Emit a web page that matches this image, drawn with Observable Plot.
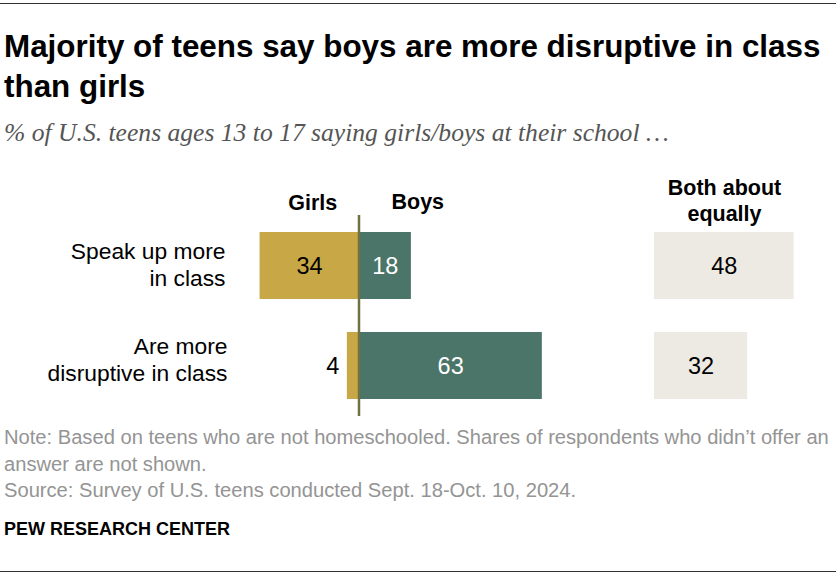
<!DOCTYPE html>
<html><head><meta charset="utf-8">
<script src="https://cdn.jsdelivr.net/npm/d3@7"></script>
<script src="https://cdn.jsdelivr.net/npm/@observablehq/plot@0.6"></script>
<style>
html,body{margin:0;padding:0;background:#fff;}
#page{position:relative;width:840px;height:576px;overflow:hidden;font-family:"Liberation Sans",Arial,sans-serif;}
.rule{position:absolute;left:0;width:836px;height:1px;background:#333;}
#title{position:absolute;left:4px;top:27px;width:832px;font-weight:700;font-size:31.4px;line-height:39.5px;color:#000;}
#subtitle{position:absolute;left:4px;top:118px;font-family:"Liberation Serif",serif;font-style:italic;font-size:25.6px;line-height:30px;color:#555;}
#chart{position:absolute;left:0;top:170px;}
#note{position:absolute;left:4px;top:424px;width:832px;font-size:20.15px;line-height:26.5px;color:#949494;}
#credit{position:absolute;left:4px;top:517px;font-size:18px;line-height:24px;font-weight:700;color:#000;}
</style></head>
<body>
<div id="page">
<div class="rule" style="top:3px"></div>
<div id="title">Majority of teens say boys are more disruptive in class than girls</div>
<div id="subtitle">% of U.S. teens ages 13 to 17 saying girls/boys at their school …</div>
<div id="chart"></div>
<div id="note">Note: Based on teens who are not homeschooled. Shares of respondents who didn’t offer an answer are not shown.<br>Source: Survey of U.S. teens conducted Sept. 18-Oct. 10, 2024.</div>
<div id="credit">PEW RESEARCH CENTER</div>
<div class="rule" style="top:571px"></div>
</div>
<script>
const categories = ["Speak up more\nin class", "Are more\ndisruptive in class"];
const girls = [34, 4];
const boys = [18, 63];
const both = [48, 32];
const headers = ["Girls", "Boys", "Both about\nequally"];

const bothStart = 101.55;          // where the "both" column begins, in percentage units
const rows = categories.map((c, i) => ({c, girls: girls[i], boys: boys[i], both: both[i]}));
const fs = 23.5, ls = 22.8, hs = 21.5;

const plot = Plot.plot({
  width: 840, height: 250,
  marginLeft: 0, marginRight: 0, marginTop: 45, marginBottom: 4,
  x: {domain: [-123.2, 165.47], axis: null},
  y: {domain: categories, paddingInner: 0.33, paddingOuter: 0.17, axis: null},
  style: {fontFamily: '"Liberation Sans",Arial,sans-serif', background: "transparent"},
  marks: [
    Plot.barX(rows, {y: "c", x1: 0, x2: d => -d.girls, fill: "#C8A846"}),
    Plot.barX(rows, {y: "c", x1: 0, x2: "boys", fill: "#4A7568"}),
    Plot.barX(rows, {y: "c", x1: bothStart, x2: d => bothStart + d.both, fill: "#EDEAE3"}),
    Plot.ruleX([0], {stroke: "#6F7144", strokeWidth: 2.5}),
    Plot.text(rows.slice(0, 1), {y: "c", x: -45.9, dy: -2, text: "c", textAnchor: "end", fontSize: ls, lineHeight: 1.18, fill: "#000"}),
    Plot.text(rows.slice(1), {y: "c", x: -45.2, dy: -7, text: "c", textAnchor: "end", fontSize: ls, lineHeight: 1.18, fill: "#000"}),
    Plot.text(rows, {y: "c", x: d => d.girls < 10 ? -d.girls - 5 : -d.girls / 2, text: "girls", fontSize: fs, fill: "#000"}),
    Plot.text(rows, {y: "c", x: d => d.boys / 2, text: "boys", fontSize: fs, fill: "#fff"}),
    Plot.text(rows, {y: "c", x: d => bothStart + d.both / 2, text: "both", fontSize: fs, fill: "#000"}),
    Plot.text([headers[0]], {x: -15.9, frameAnchor: "top", dy: -21, text: d => d, fontSize: hs, fontWeight: 700, fill: "#000"}),
    Plot.text([headers[1]], {x: 20.2, frameAnchor: "top", dy: -22, text: d => d, fontSize: hs, fontWeight: 700, fill: "#000"}),
    Plot.text([headers[2]], {x: 125.6, frameAnchor: "top", dy: -40, text: d => d, fontSize: hs, fontWeight: 700, lineHeight: 1.25, fill: "#000"})
  ]
});
document.getElementById("chart").appendChild(plot);
</script>
</body></html>
